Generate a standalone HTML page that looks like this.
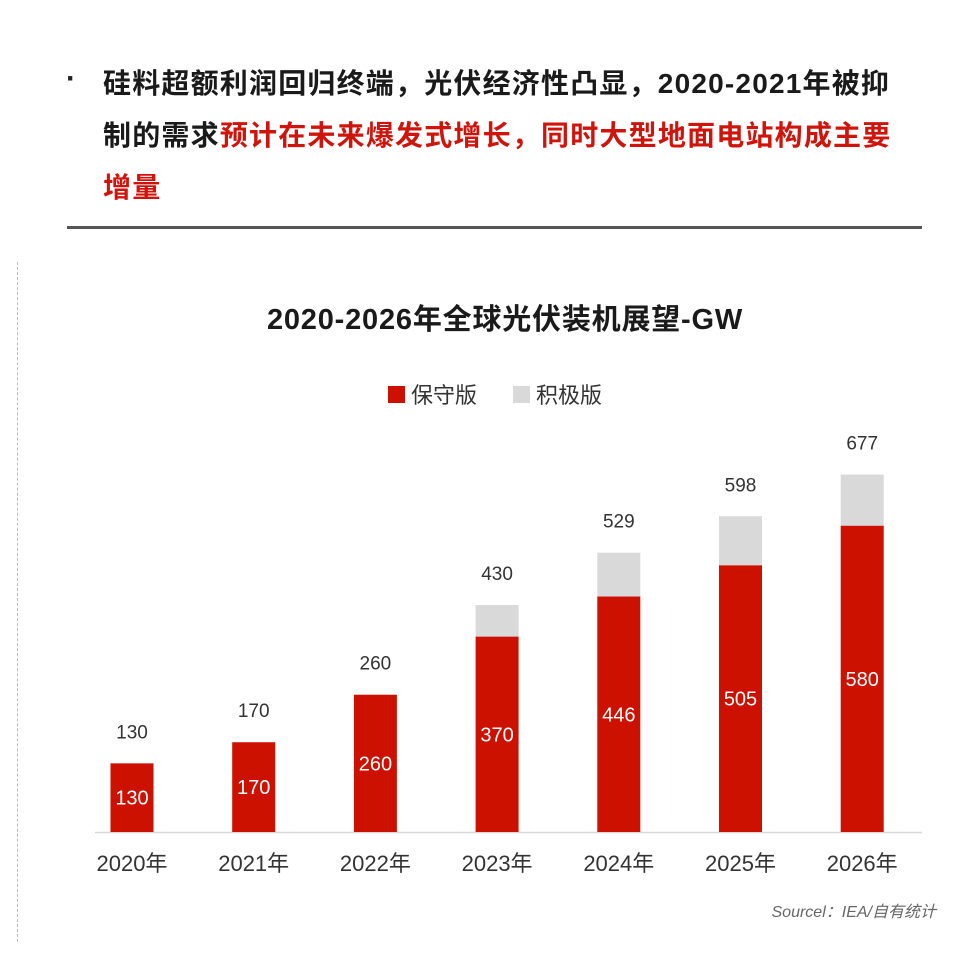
<!DOCTYPE html>
<html><head><meta charset="utf-8">
<style>
body{margin:0;width:976px;height:964px;background:#fff;position:relative;overflow:hidden;font-family:"Liberation Sans","Noto Sans CJK SC",sans-serif;}
.t{position:absolute;white-space:nowrap;}
</style></head><body>
<div class="t" style="left:66px;top:62px;font-size:30px;color:#222;font-weight:bold;">·</div>
<div class="t" style="left:103px;top:62px;font-size:28px;letter-spacing:1.2px;font-weight:bold;color:#1a1a1a;">硅料超额利润回归终端，光伏经济性凸显，2020-2021年被抑</div>
<div class="t" style="left:103px;top:114px;font-size:28px;letter-spacing:1.2px;font-weight:bold;color:#1a1a1a;">制的需求<span style="color:#d0140c">预计在未来爆发式增长，同时大型地面电站构成主要</span></div>
<div class="t" style="left:103px;top:166px;font-size:28px;letter-spacing:1.2px;font-weight:bold;color:#d0140c;">增量</div>
<div style="position:absolute;left:67px;top:226px;width:855px;height:3px;background:#555;"></div>
<div style="position:absolute;left:17px;top:262px;height:680px;border-left:1px dashed #bbb;"></div>
<svg id="chart" width="976" height="964" style="position:absolute;left:0;top:0;">
<text x="505" y="329" text-anchor="middle" font-size="29" font-weight="bold" letter-spacing="0.8" fill="#1a1a1a" font-family="Liberation Sans, Noto Sans CJK SC, sans-serif">2020-2026年全球光伏装机展望-GW</text>
<rect x="388" y="386" width="17" height="17" fill="#cc1100"/>
<text x="411" y="403" font-size="22" fill="#333" font-family="Liberation Sans, Noto Sans CJK SC, sans-serif">保守版</text>
<rect x="513" y="386" width="17" height="17" fill="#d9d9d9"/>
<text x="536" y="403" font-size="22" fill="#333" font-family="Liberation Sans, Noto Sans CJK SC, sans-serif">积极版</text>
<line x1="95" y1="832.5" x2="922" y2="832.5" stroke="#d8d8d8" stroke-width="1.5"/>
<text x="936" y="917" text-anchor="end" font-size="16" font-style="italic" fill="#666" font-family="Liberation Sans, Noto Sans CJK SC, sans-serif">Sourcel：IEA/自有统计</text>
</svg>
<script>
const categories=["2020年","2021年","2022年","2023年","2024年","2025年","2026年"];
const conservative=[130,170,260,370,446,505,580];
const optimistic=[130,170,260,430,529,598,677];
const svg=document.getElementById('chart');
const NS='http://www.w3.org/2000/svg';
const base=832, k=0.528, x0=132, step=121.7, bw=43;
const F='Liberation Sans, Noto Sans CJK SC, sans-serif';
function xs(i){return x0+step*i;}
function ys(v){return base-v*k;}
function mk(tag,attrs){const e=document.createElementNS(NS,tag);for(const a in attrs)e.setAttribute(a,attrs[a]);svg.appendChild(e);return e;}
categories.forEach((c,i)=>{
  const cx=xs(i);
  if(optimistic[i]>conservative[i]){
    const g=mk('rect',{x:cx-bw/2,y:ys(optimistic[i]),width:bw,height:ys(conservative[i])-ys(optimistic[i]),fill:'#d9d9d9'});
    
    
  }
  const r=mk('rect',{x:cx-bw/2,y:ys(conservative[i]),width:bw,height:base-ys(conservative[i]),fill:'#cc1100'});
  
  
  const t1=mk('text',{x:cx,y:(ys(conservative[i])+base)/2+7,'text-anchor':'middle','font-size':20,fill:'#fff','font-family':F});
  t1.textContent=conservative[i];
  
  
  const t2=mk('text',{x:cx,y:ys(optimistic[i])-25,'text-anchor':'middle','font-size':19,fill:'#333','font-family':F});
  t2.textContent=optimistic[i];
  
  
  const t3=mk('text',{x:cx,y:871,'text-anchor':'middle','font-size':22,fill:'#333','font-family':F});
  t3.textContent=c;
  
  
});
</script>
</body></html>
